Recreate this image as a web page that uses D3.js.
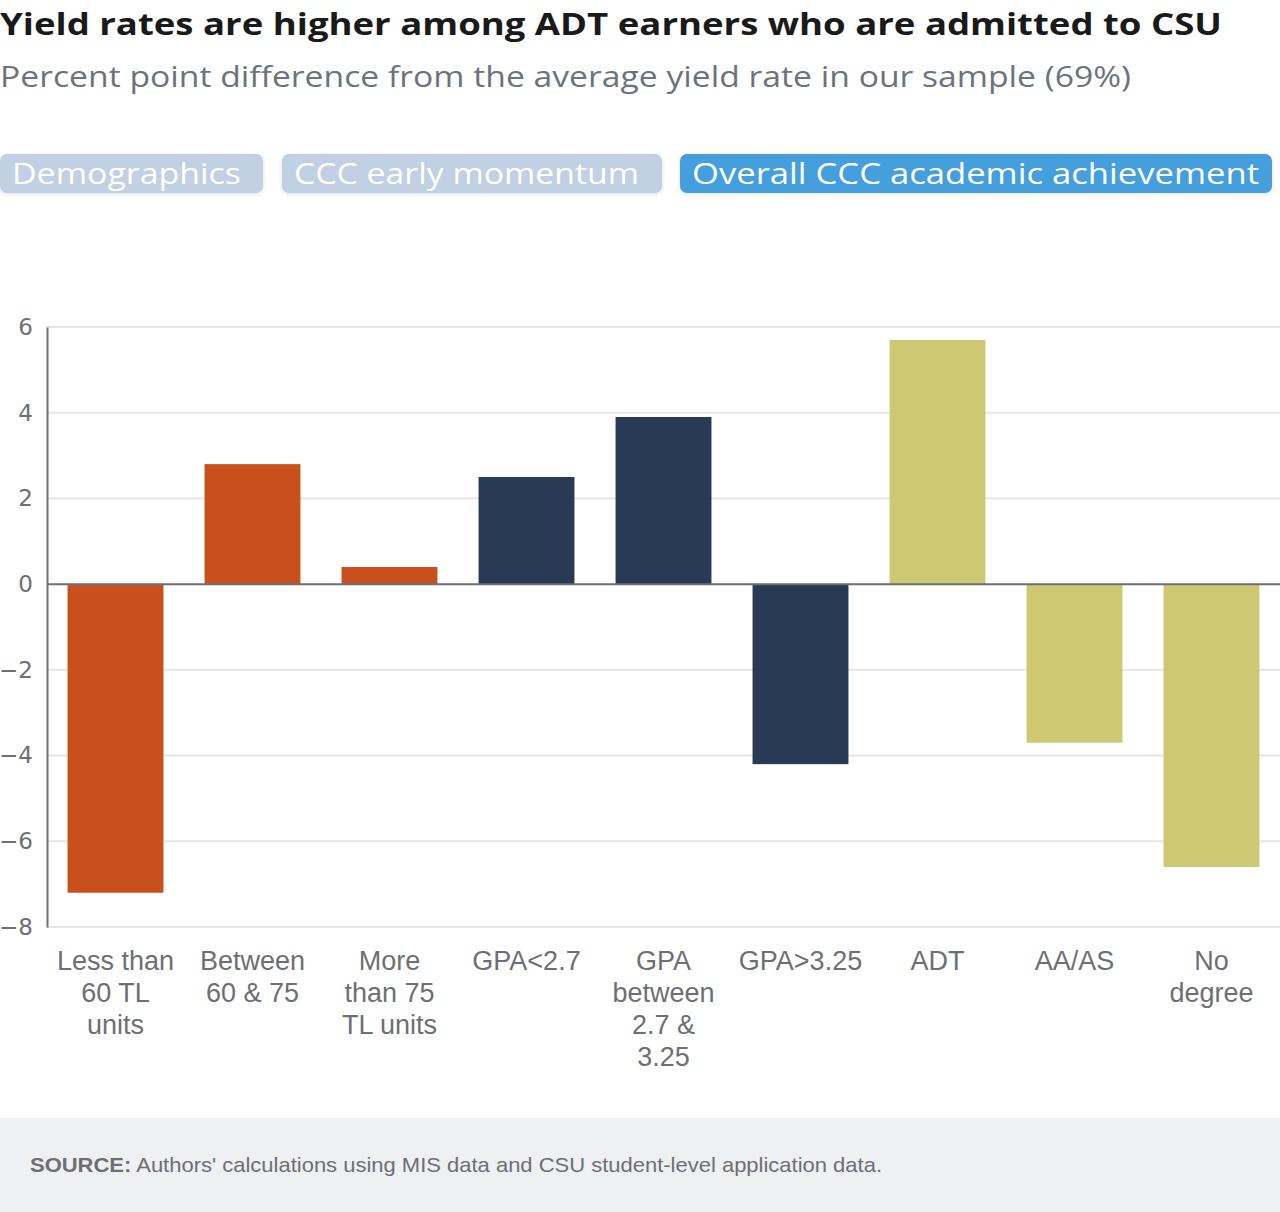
<!DOCTYPE html>
<html>
<head>
<meta charset="utf-8">
<script src="https://cdn.jsdelivr.net/npm/d3@7"></script>
<style>
  body { margin: 0; background: #fff; }
  #container { width: 1280px; height: 1212px; position: relative; }
</style>
</head>
<body>
<div id="container"></div>
<script>
const categories = [
  ['Less than', '60 TL', 'units'],
  ['Between', '60 & 75'],
  ['More', 'than 75', 'TL units'],
  ['GPA<2.7'],
  ['GPA', 'between', '2.7 &', '3.25'],
  ['GPA>3.25'],
  ['ADT'],
  ['AA/AS'],
  ['No', 'degree']
];
const values = [-7.2, 2.8, 0.4, 2.5, 3.9, -4.2, 5.7, -3.7, -6.6];
const groups = ['units', 'units', 'units', 'gpa', 'gpa', 'gpa', 'degree', 'degree', 'degree'];
const yTicks = [-8, -6, -4, -2, 0, 2, 4, 6];
const tabs = ['Demographics', 'CCC early momentum', 'Overall CCC academic achievement'];

const w = 1280;
const h = 1212;

const colors = { units: '#c9501c', gpa: '#283a54', degree: '#ccc972' };

const svg = d3.select('#container')
  .append('svg')
    .attr('width', w)
    .attr('height', h)
    .attr('viewBox', [0, 0, w, h]);

// title + subtitle
svg.append('text')
  .attr('x', 0)
  .attr('y', 35)
  .attr('textLength', 1222)
  .attr('lengthAdjust', 'spacingAndGlyphs')
  .style('font-family', 'Open Sans, sans-serif')
  .style('font-weight', 'bold')
  .style('font-size', '31px')
  .style('fill', '#1a1a1a')
  .text('Yield rates are higher among ADT earners who are admitted to CSU');

svg.append('text')
  .attr('x', 0)
  .attr('y', 87)
  .attr('textLength', 1131)
  .attr('lengthAdjust', 'spacingAndGlyphs')
  .style('font-family', 'Open Sans, sans-serif')
  .style('font-size', '29px')
  .style('fill', '#6b737c')
  .text('Percent point difference from the average yield rate in our sample (69%)');

// tab buttons
const tabX = [0, 282, 680];
const tabW = [263, 380, 592];
const tabTextLen = [229, 345, 567];
const tabFill = ['#c1d0e3', '#c1d0e3', '#449fdc'];

const defs = svg.append('defs');
const f = defs.append('filter').attr('id', 'shadow')
  .attr('x', '-10%').attr('y', '-30%').attr('width', '120%').attr('height', '160%');
f.append('feDropShadow')
  .attr('dx', 0).attr('dy', 1).attr('stdDeviation', 2)
  .attr('flood-color', '#000').attr('flood-opacity', 0.12);

const tab = svg.append('g').selectAll('g')
  .data(tabs)
  .enter()
  .append('g')
  .attr('transform', (d, i) => 'translate(' + tabX[i] + ', 154)');

tab.append('rect')
  .attr('width', (d, i) => tabW[i])
  .attr('height', 39)
  .attr('rx', 7)
  .style('fill', (d, i) => tabFill[i])
  .attr('filter', 'url(#shadow)');

tab.append('text')
  .attr('x', 12)
  .attr('y', 30)
  .attr('textLength', (d, i) => tabTextLen[i])
  .attr('lengthAdjust', 'spacingAndGlyphs')
  .style('font-family', 'Open Sans, sans-serif')
  .style('font-size', '30px')
  .style('fill', '#fff')
  .text(d => d);

// chart
const left = 47;
const right = 1280;

const x = d3.scaleBand()
  .domain(d3.range(values.length))
  .range([left, right])
  .paddingInner(0.3)
  .paddingOuter(0.15);

const y = d3.scaleLinear()
  .domain([-8, 6])
  .range([927, 327]);

const grid = svg.append('g');
grid.selectAll('line')
  .data(yTicks.filter(d => d !== 0))
  .enter()
  .append('line')
  .attr('x1', left)
  .attr('x2', right)
  .attr('y1', d => y(d))
  .attr('y2', d => y(d))
  .style('stroke', '#e6e6e6')
  .style('stroke-width', 2);

const yAxis = d3.axisLeft(y)
  .tickValues(yTicks)
  .tickSize(0)
  .tickPadding(14)
  .tickFormat(d => d < 0 ? '\u2212' + Math.abs(d) : d);

const yg = svg.append('g')
  .attr('transform', 'translate(' + left + ', 0)')
  .call(yAxis);

yg.select('.domain')
  .style('stroke', '#6d6f72')
  .style('stroke-width', 2);

yg.selectAll('text')
  .style('font-family', 'DejaVu Sans, sans-serif')
  .style('font-size', '23px')
  .style('fill', '#6d6f72');

svg.append('g').selectAll('rect')
  .data(values)
  .enter()
  .append('rect')
  .attr('x', (d, i) => x(i))
  .attr('width', x.bandwidth())
  .attr('y', d => y(Math.max(0, d)))
  .attr('height', d => Math.abs(y(d) - y(0)))
  .style('fill', (d, i) => colors[groups[i]]);

// zero line
svg.append('line')
  .attr('x1', left)
  .attr('x2', right)
  .attr('y1', y(0))
  .attr('y2', y(0))
  .style('stroke', '#6d6f72')
  .style('stroke-width', 2);

// category labels
const labels = svg.append('g').selectAll('text')
  .data(categories)
  .enter()
  .append('text')
  .attr('x', (d, i) => x(i) + x.bandwidth() / 2)
  .attr('y', 970)
  .attr('text-anchor', 'middle')
  .style('font-family', 'Liberation Sans, Arial, sans-serif')
  .style('font-size', '27px')
  .style('fill', '#6d6f72');

labels.selectAll('tspan')
  .data(d => d)
  .enter()
  .append('tspan')
  .attr('x', function() { return d3.select(this.parentNode).attr('x'); })
  .attr('dy', (d, i) => i === 0 ? 0 : 32)
  .text(d => d);

// footer
svg.append('rect')
  .attr('x', 0)
  .attr('y', 1118)
  .attr('width', w)
  .attr('height', h - 1118)
  .style('fill', '#eff0f2');

const src = svg.append('text')
  .attr('x', 30)
  .attr('y', 1172)
  .attr('textLength', 852)
  .attr('lengthAdjust', 'spacingAndGlyphs')
  .style('font-family', 'Liberation Sans, Arial, sans-serif')
  .style('font-size', '21px')
  .style('fill', '#6d6f72');

src.append('tspan')
  .style('font-weight', 'bold')
  .text('SOURCE:');

src.append('tspan')
  .text(" Authors' calculations using MIS data and CSU student-level application data.");
</script>
</body>
</html>
